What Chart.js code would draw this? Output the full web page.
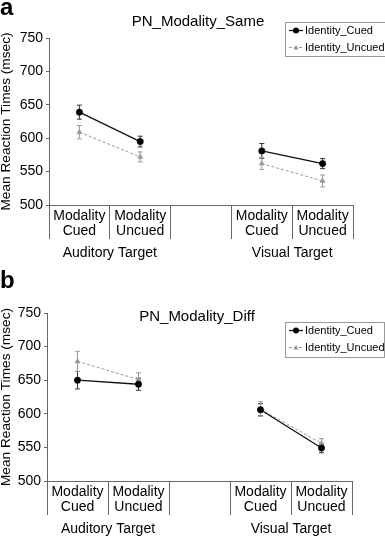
<!DOCTYPE html>
<html>
<head>
<meta charset="utf-8">
<script src="https://cdn.jsdelivr.net/npm/chart.js@4.4.1/dist/chart.umd.min.js"></script>
<style>
  body { margin: 0; background: #fff; }
  .panel { width: 385px; height: 268px; }
</style>
</head>
<body>
<div class="panel"><canvas id="chartSame" width="385" height="268"></canvas></div>
<div class="panel"><canvas id="chartDiff" width="385" height="268"></canvas></div>
<script>
// categories on the x axis (middle slot is an empty spacer)
var categories = [['Modality', 'Cued'], ['Modality', 'Uncued'], '', ['Modality', 'Cued'], ['Modality', 'Uncued']];
var groupLabels = ['Auditory Target', 'Visual Target'];
var seriesNames = ['Identity_Cued', 'Identity_Uncued'];
var yTicks = [500, 550, 600, 650, 700, 750];

// PN_Modality_Same
var sameCued = [639, 595, null, 581, 562];
var sameCuedErr = [10.5, 8, null, 11, 7.5];
var sameUncued = [609, 572, null, 562, 536];
var sameUncuedErr = [10, 7.5, null, 9, 9];

// PN_Modality_Diff
var diffCued = [650, 644, null, 606, 549];
var diffCuedErr = [13, 9, null, 9, 7];
var diffUncued = [678, 651, null, 607, 556];
var diffUncuedErr = [15, 10, null, 11, 7];

Chart.defaults.font.family = '"Liberation Sans", Arial, sans-serif';
Chart.defaults.color = '#000';

var FONT = '"Liberation Sans", Arial, sans-serif';
var AXIS = '#666';

// error bars drawn from the y scale
var errorBars = {
    id: 'errorBars',
    beforeDatasetsDraw: function (chart) {
        var ctx = chart.ctx;
        var y = chart.scales.y;
        ctx.save();
        chart.data.datasets.forEach(function (ds, i) {
            var meta = chart.getDatasetMeta(i);
            ctx.strokeStyle = ds.errColor;
            ctx.lineWidth = 1;
            meta.data.forEach(function (pt, j) {
                var v = ds.data[j], e = ds.errors[j];
                if (v === null || e === null) return;
                var top = y.getPixelForValue(v + e);
                var bot = y.getPixelForValue(v - e);
                ctx.beginPath();
                ctx.moveTo(pt.x, top); ctx.lineTo(pt.x, bot);
                ctx.moveTo(pt.x - 2.5, top); ctx.lineTo(pt.x + 2.5, top);
                ctx.moveTo(pt.x - 2.5, bot); ctx.lineTo(pt.x + 2.5, bot);
                ctx.stroke();
            });
        });
        ctx.restore();
    }
};

// panel letter, title, group labels and boxed legend
var decor = {
    id: 'decor',
    afterDraw: function (chart, args, o) {
        var ctx = chart.ctx;
        var x = chart.scales.x;
        ctx.save();
        ctx.fillStyle = '#000';
        ctx.font = 'bold 24px ' + FONT;
        ctx.textAlign = 'left';
        ctx.textBaseline = 'alphabetic';
        ctx.fillText(o.letter, 0, o.letterY);

        ctx.font = '15px ' + FONT;
        ctx.textAlign = 'center';
        ctx.textBaseline = 'middle';
        ctx.fillText(o.title, o.titleX, o.titleY);

        ctx.font = '14px ' + FONT;
        groupLabels.forEach(function (g, k) {
            var i = k * 3;
            var cx = (x.getPixelForValue(i) + x.getPixelForValue(i + 1)) / 2;
            ctx.fillText(g, cx, x.top + 48);
        });

        // legend
        var L = o.legend;
        ctx.strokeStyle = '#999';
        ctx.lineWidth = 1;
        ctx.strokeRect(L.x + 0.5, L.y + 0.5, L.w, L.h);
        ctx.font = '11px ' + FONT;
        ctx.textAlign = 'left';
        chart.data.datasets.forEach(function (ds, i) {
            var ry = L.y + 8.5 + i * 17;
            var lx = L.x + 4;
            ctx.strokeStyle = ds.borderColor;
            ctx.lineWidth = ds.borderWidth;
            ctx.setLineDash(ds.borderDash || []);
            ctx.beginPath();
            ctx.moveTo(lx, ry); ctx.lineTo(lx + 14, ry);
            ctx.stroke();
            ctx.setLineDash([]);
            ctx.fillStyle = ds.pointBackgroundColor;
            ctx.beginPath();
            if (ds.pointStyle === 'triangle') {
                ctx.moveTo(lx + 7, ry - 2.5);
                ctx.lineTo(lx + 9.5, ry + 2);
                ctx.lineTo(lx + 4.5, ry + 2);
                ctx.closePath();
            } else {
                ctx.arc(lx + 7, ry, 3, 0, Math.PI * 2);
            }
            ctx.fill();
            ctx.fillStyle = '#000';
            ctx.fillText(seriesNames[i], lx + 16, ry);
        });
        ctx.restore();
    }
};

function makeChart(id, cued, cuedErr, uncued, uncuedErr, deco, pad, yWidth, xHeight) {
    var ctx = document.getElementById(id).getContext('2d');
    return new Chart(ctx, {
        type: 'line',
        data: {
            labels: categories,
            datasets: [
                {
                    label: seriesNames[0],
                    data: cued,
                    errors: cuedErr,
                    errColor: '#333',
                    borderColor: '#111',
                    borderWidth: 1.3,
                    pointStyle: 'circle',
                    pointRadius: 3.2,
                    pointBorderWidth: 0.5,
                    pointBackgroundColor: '#000',
                    pointBorderColor: '#000',
                    spanGaps: false
                },
                {
                    label: seriesNames[1],
                    data: uncued,
                    errors: uncuedErr,
                    errColor: '#999',
                    borderColor: '#999',
                    borderWidth: 1,
                    borderDash: [3, 2],
                    pointStyle: 'triangle',
                    pointRadius: 3,
                    pointBorderWidth: 0.5,
                    pointBackgroundColor: '#999',
                    pointBorderColor: '#999',
                    spanGaps: false
                }
            ]
        },
        options: {
            responsive: false,
            animation: false,
            layout: { padding: pad },
            plugins: {
                legend: { display: false },
                title: { display: false },
                tooltip: { enabled: false },
                decor: deco
            },
            scales: {
                x: {
                    offset: true,
                    grid: {
                        offset: true,
                        drawOnChartArea: false,
                        drawTicks: true,
                        tickLength: 34,
                        color: AXIS
                    },
                    border: { color: AXIS },
                    ticks: {
                        autoSkip: false,
                        maxRotation: 0,
                        padding: -30,
                        font: { size: 14, lineHeight: 1.05 },
                        color: '#000'
                    },
                    afterFit: function (s) { s.height = xHeight; }
                },
                y: {
                    min: yTicks[0],
                    max: yTicks[yTicks.length - 1],
                    afterBuildTicks: function (s) {
                        s.ticks = yTicks.map(function (v) { return { value: v }; });
                    },
                    grid: {
                        drawOnChartArea: false,
                        drawTicks: true,
                        tickLength: 3,
                        color: AXIS
                    },
                    border: { color: AXIS },
                    ticks: {
                        padding: 3,
                        font: { size: 14 },
                        color: '#000'
                    },
                    title: {
                        display: true,
                        text: 'Mean Reaction Times (msec)',
                        font: { size: 13.7, lineHeight: 1 },
                        padding: { top: -1, bottom: 0 },
                        color: '#000'
                    },
                    afterFit: function (s) { s.width = yWidth; }
                }
            }
        },
        plugins: [errorBars, decor]
    });
}

makeChart('chartSame', sameCued, sameCuedErr, sameUncued, sameUncuedErr,
    { letter: 'a', letterY: 15, title: 'PN_Modality_Same', titleX: 198, titleY: 22,
      legend: { x: 285, y: 22, w: 101, h: 34 } },
    { top: 38, right: 32, left: 0, bottom: 0 }, 49, 63);

makeChart('chartDiff', diffCued, diffCuedErr, diffUncued, diffUncuedErr,
    { letter: 'b', letterY: 20, title: 'PN_Modality_Diff', titleX: 197, titleY: 49,
      legend: { x: 285, y: 54, w: 99, h: 35 } },
    { top: 45, right: 33, left: 0, bottom: 0 }, 47, 55);
</script>
</body>
</html>
